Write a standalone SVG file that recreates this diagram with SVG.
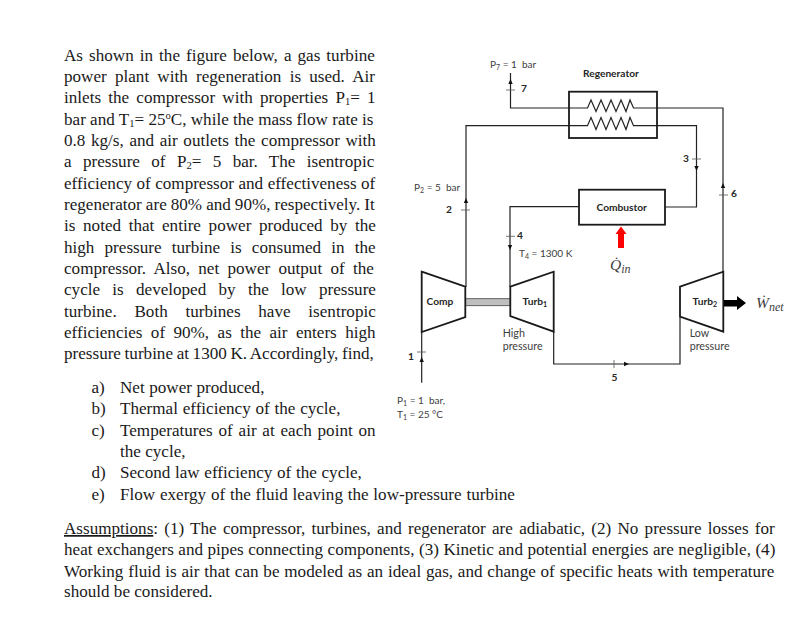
<svg xmlns="http://www.w3.org/2000/svg" width="812" height="621" viewBox="0 0 812 621">
<style>
.t{font-family:"Liberation Serif","Times New Roman",serif;font-size:17.1px;fill:#1a1a1a}
.l{font-family:Lato,"Open Sans",sans-serif;font-size:10.7px;fill:#404040}
.p{font-family:Lato,"Open Sans",sans-serif;font-size:10px;fill:#404040}
.b{font-family:Lato,"Open Sans",sans-serif;font-size:10.2px;font-weight:700;fill:#262626}
.m{font-family:"Liberation Serif",serif;font-style:italic;font-size:15.5px;fill:#404040}
.s{font-size:62%;baseline-shift:-2px}
.d{font-size:70%;baseline-shift:-1.5px}
.n{font-size:78%;baseline-shift:-2.5px}
.u{font-size:62%;baseline-shift:6px}
.w{fill:none;stroke:#222;stroke-width:1.2}
.k{fill:#fff;stroke:#1a1a1a;stroke-width:1.8}
.tick{fill:none;stroke:#555;stroke-width:.8}
</style>
<defs>
<polygon id="ah" points="0,-3 2.2,2 -2.2,2" fill="#111"/>
</defs>
<rect width="812" height="621" fill="#fff"/>
<g id="problem-text">
<text class="t" x="64" y="60.7" word-spacing="1.78">As shown in the figure below, a gas turbine</text>
<text class="t" x="64" y="82" word-spacing="3.96">power plant with regeneration is used. Air</text>
<text class="t" x="64" y="103.4" word-spacing="2.92">inlets the compressor with properties P<tspan class="s">1</tspan>= 1</text>
<text class="t" x="64" y="124.7">bar and T<tspan class="s">1</tspan>= 25<tspan class="u">o</tspan>C, while the mass flow rate is</text>
<text class="t" x="64" y="146" word-spacing="1.35">0.8 kg/s, and air outlets the compressor with</text>
<text class="t" x="64" y="167.4" word-spacing="7.1">a pressure of P<tspan class="s">2</tspan>= 5 bar. The isentropic</text>
<text class="t" x="64" y="188.7" word-spacing=".2">efficiency of compressor and effectiveness of</text>
<text class="t" x="64" y="210" word-spacing="-.23">regenerator are 80% and 90%, respectively. It</text>
<text class="t" x="64" y="231.4" word-spacing="3.4">is noted that entire power produced by the</text>
<text class="t" x="64" y="252.7" word-spacing="5.9">high pressure turbine is consumed in the</text>
<text class="t" x="64" y="274" word-spacing="4">compressor. Also, net power output of the</text>
<text class="t" x="64" y="295.4" word-spacing="8">cycle is developed by the low pressure</text>
<text class="t" x="64" y="316.7" word-spacing="13.5">turbine. Both turbines have isentropic</text>
<text class="t" x="64" y="338" word-spacing="4.14">efficiencies of 90%, as the air enters high</text>
<text class="t" x="64" y="359.4" word-spacing="-.64">pressure turbine at 1300 K. Accordingly, find,</text>
<text class="t" x="91.5" y="393.3">a)</text><text class="t" x="120" y="393.3" word-spacing=".3">Net power produced,</text>
<text class="t" x="91.5" y="414">b)</text><text class="t" x="120" y="414" word-spacing=".5">Thermal efficiency of the cycle,</text>
<text class="t" x="91.5" y="436">c)</text><text class="t" x="120" y="436" word-spacing="1.5">Temperatures of air at each point on</text>
<text class="t" x="120" y="457">the cycle,</text>
<text class="t" x="91.5" y="478">d)</text><text class="t" x="120" y="478" word-spacing=".4">Second law efficiency of the cycle,</text>
<text class="t" x="91.5" y="500">e)</text><text class="t" x="120" y="500" word-spacing=".5">Flow exergy of the fluid leaving the low-pressure turbine</text>
<text class="t" x="64" y="534" word-spacing="1.95"><tspan text-decoration="underline">Assumptions</tspan>: (1) The compressor, turbines, and regenerator are adiabatic, (2) No pressure losses for</text>
<text class="t" x="64" y="555.3" word-spacing=".23">heat exchangers and pipes connecting components, (3) Kinetic and potential energies are negligible, (4)</text>
<text class="t" x="64" y="576.7" word-spacing=".54">Working fluid is air that can be modeled as an ideal gas, and change of specific heats with temperature</text>
<text class="t" x="64" y="597.3">should be considered.</text>
</g>
<g id="connectors">
<path class="w" d="M510.5 73V108H587.5L591 100 596 111.5 601 100 606 111.5 611 100 616 111.5 621 100 626 111.5 630 100 633.5 108H723V272"/>
<path class="w" d="M421.7 382.7V332"/>
<path class="w" d="M466 287V125.7H587.5L591 117.5 596 129.5 601 117.5 606 129.5 611 117.5 616 129.5 621 117.5 626 129.5 630 117.5 633.5 125.7H696.5V207H665"/>
<path class="w" d="M579 206.7H510V287"/>
<path class="w" d="M553.7 331.7V364H680V316.7"/>
<path class="tick" d="M506 90h9M692 159h9M719 195h9M461 210h9M506 236.3h9M417 352h9M614 360v8"/>
<use href="#ah" x="510.5" y="82"/>
<use href="#ah" transform="translate(696.5 168) rotate(180)"/>
<use href="#ah" x="723" y="186"/>
<use href="#ah" x="466" y="201"/>
<use href="#ah" transform="translate(510 247) rotate(180)"/>
<use href="#ah" x="421.7" y="360"/>
<use href="#ah" transform="translate(626 364) rotate(90)"/>
</g>
<g id="regenerator">
<rect x="569" y="91.7" width="88" height="46.3" fill="none" stroke="#1a1a1a" stroke-width="1.8"/>
<text class="b" x="583" y="76.5">Regenerator</text>
</g>
<g id="combustor">
<rect x="579" y="189.7" width="86" height="35" class="k"/>
<text class="b" x="596.5" y="210.7">Combustor</text>
</g>
<g id="heat-input">
<polygon points="618,248 624,248 624,234 626.5,234 621,226.5 615.5,234 618,234" fill="#f00"/>
<text class="m" x="610" y="270">Q̇<tspan class="n">in</tspan></text>
</g>
<g id="shaft">
<rect x="465.3" y="298.7" width="45" height="7" fill="#bfbfbf" stroke="#444" stroke-width=".8"/>
</g>
<g id="compressor">
<polygon class="k" points="421.7,271.7 465.3,286.7 465.3,317 421.7,332"/>
<text class="b" x="426.5" y="305">Comp</text>
</g>
<g id="turbine-1">
<polygon class="k" points="510.3,286.7 553.7,271.7 553.7,331.7 510.3,316"/>
<text class="b" x="522.5" y="305">Turb<tspan class="d">1</tspan></text>
<text class="l" x="502.7" y="336.7">High</text>
<text class="l" x="502.7" y="350">pressure</text>
</g>
<g id="turbine-2">
<polygon class="k" points="680,286.7 723.3,271.7 723.3,331.7 680,316.7"/>
<text class="b" x="692.5" y="305">Turb<tspan class="d">2</tspan></text>
<text class="l" x="689.7" y="336.7">Low</text>
<text class="l" x="689.7" y="350">pressure</text>
</g>
<g id="work-output">
<polygon points="724,300 737,300 737,296 746,303 737,310 737,306.5 724,306.5" fill="#000"/>
<text class="m" x="756" y="308">Ẇ<tspan class="n">net</tspan></text>
</g>
<g id="labels">
<text class="p" x="490" y="68">P<tspan class="d">7</tspan> = 1 &#160;bar</text>
<text class="p" x="414" y="190.7">P<tspan class="d">2</tspan> = 5 &#160;bar</text>
<text class="p" x="519" y="257">T<tspan class="d">4</tspan> = 1300 K</text>
<text class="p" x="397" y="404">P<tspan class="d">1</tspan> = 1 &#160;bar,</text>
<text class="p" x="397" y="417.5">T<tspan class="d">1</tspan> = 25 °C</text>
<text class="b" x="521" y="92">7</text>
<text class="b" x="683" y="161.5">3</text>
<text class="b" x="731" y="197">6</text>
<text class="b" x="446" y="212.5">2</text>
<text class="b" x="517" y="239">4</text>
<text class="b" x="408" y="360">1</text>
<text class="b" x="611.5" y="380.5">5</text>
</g>
</svg>
